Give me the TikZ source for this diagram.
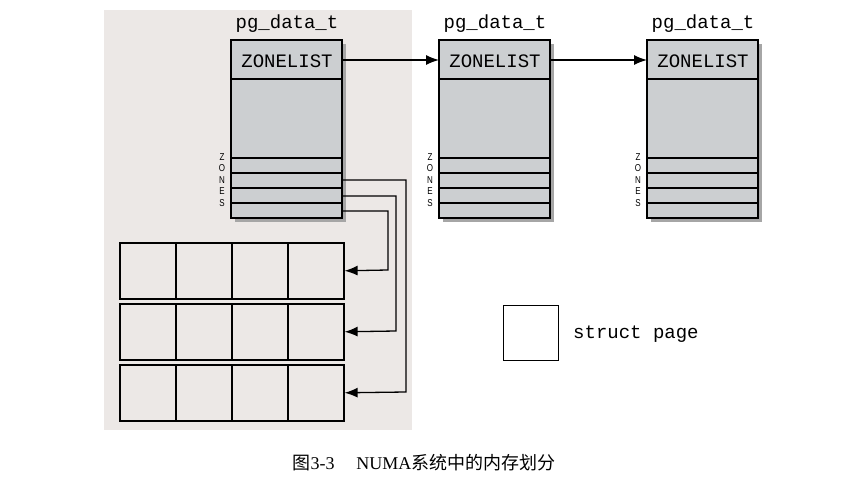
\documentclass[tikz,border=0pt]{standalone}
\usepackage{fontspec}
\setmainfont{Liberation Serif}
\newfontfamily\cjk{Noto Sans CJK SC}
\newfontfamily\mono{Liberation Mono}
\newfontfamily\sans{Liberation Sans}
\usetikzlibrary{arrows.meta}
\definecolor{bg}{HTML}{ECE8E6}
\definecolor{fillg}{HTML}{CCCFD1}
\begin{document}
\begin{tikzpicture}[x=1pt,y=-1pt,
  ln/.style={line width=1.6pt,black},
  arr/.style={line width=1.3pt,-{Latex[length=13pt,width=10pt]}},
  cell/.style={draw,line width=1.6pt,minimum width=56pt,minimum height=56pt,inner sep=0pt,fill=bg},
  mono/.style={font=\mono\fontsize{19}{19}\selectfont,inner sep=0pt}]
\useasboundingbox (0,0) rectangle (848,478);
\fill[bg] (104,10) rectangle (412,430);
\foreach \n/\x in {a/231,b/439,c/647}{
  \fill[gray!70] (\x+4,44) rectangle (\x+115,222);
  \draw[ln,fill=fillg] (\x,40) rectangle (\x+111,218);
  \coordinate (\n w) at (\x,60);
  \coordinate (\n e) at (\x+111,60);
  \draw[ln] (\x,79) -- (\x+111,79);
  \foreach \y in {158,173,188,203} \draw[ln] (\x,\y) -- (\x+111,\y);
  \node[mono] (\n t) at (\x+56,24) {pg\_data\_t};
  \node[mono] (\n z) at (\x+56,61) {ZONELIST};
  \node[font=\sans\fontsize{10}{11.5}\selectfont,align=center,inner sep=0pt,anchor=north,xscale=0.8] (\n s) at (\x-9,153) {Z\\O\\N\\E\\S};
}
\draw[arr] (ae) -- (bw);
\draw[arr] (be) -- (cw);
\foreach \r/\y in {1/242,2/303,3/364}{
  \foreach \i in {0,1,2,3}{
    \node[cell,anchor=north west] (p\r\i) at (119+\i*56,\y) {};
  }
}
\coordinate (z1) at (342,180);
\coordinate (z2) at (342,196);
\coordinate (z3) at (342,211);
\draw[arr] (z1) -- (406,180) -- (406,392) -- (p33.east);
\draw[arr] (z2) -- (396,196) -- (396,331) -- (p23.east);
\draw[arr] (z3) -- (388,211) -- (388,270) -- (p13.east);
\node[cell,fill=white,minimum width=55pt,minimum height=55pt] (leg) at (531,333) {};
\node[mono,anchor=west] (legt) at (573,334) {struct page};
\node[font=\fontsize{18}{18}\selectfont,inner sep=0pt] (cap) at (424,463) {{\cjk 图}3-3\hspace{22pt}NUMA{\cjk 系统中的内存划分}};
\end{tikzpicture}
\end{document}
